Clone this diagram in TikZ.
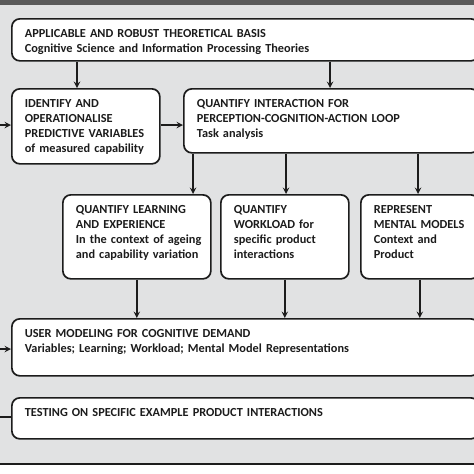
\documentclass[tikz,border=0pt]{standalone}
\usepackage{fontspec}
\setmainfont{Carlito}
\usetikzlibrary{arrows, positioning}
\definecolor{panel}{HTML}{E1E2E3}
\definecolor{topbar}{HTML}{5A5A5A}
\definecolor{ink}{HTML}{1C1C1C}
\tikzstyle{arrow} = [line width=1.8pt,->,>=stealth,draw=ink]

\begin{document}
\begin{tikzpicture}[x=1pt, y=-1pt, font=\fontsize{12.3}{15}\selectfont\bfseries]
\tikzstyle{stage} = [rectangle, rounded corners=8pt, draw=ink, line width=1.7pt, fill=white, anchor=north west, align=left, inner xsep=13pt, inner ysep=10pt, text height=9pt, text=ink]

\clip (0,0) rectangle (474,474);
\fill [white] (0,0) rectangle (474,474);
\fill [panel] (0,5) rectangle (474,464);
\fill [topbar] (0,0) rectangle (474,5);
\draw [ink, line width=2pt] (0,464) -- (474,464);

\node (basis) [stage, text width=441pt, text depth=13pt] at (11,18) {APPLICABLE AND ROBUST THEORETICAL BASIS\\Cognitive Science and Information Processing Theories};
\node (identify) [stage, text width=122pt, text depth=46pt] at (11,88) {IDENTIFY AND\\OPERATIONALISE\\\mbox{PREDICTIVE VARIABLES}\\of measured capability};
\node (interact) [stage, text width=269pt, text depth=35pt] at (183,88) {QUANTIFY INTERACTION FOR\\PERCEPTION-COGNITION-ACTION LOOP\\Task analysis};
\node (learning) [stage, text width=122pt, text depth=55pt] at (62,194) {QUANTIFY LEARNING\\AND EXPERIENCE\\\mbox{In the context of ageing}\\\mbox{and capability variation}};
\node (workload) [stage, text width=102pt, text depth=55pt] at (220,194) {QUANTIFY\\WORKLOAD for\\specific product\\interactions};
\node (mental) [stage, text width=92pt, text depth=55pt] at (360,194) {REPRESENT\\\mbox{MENTAL MODELS}\\Context and\\Product};
\node (usermodel) [stage, text width=441pt, text depth=28pt] at (11,318) {USER MODELING FOR COGNITIVE DEMAND\\Variables; Learning; Workload; Mental Model Representations};
\node (testing) [stage, text width=441pt, text depth=12pt] at (11,397) {TESTING ON SPECIFIC EXAMPLE PRODUCT INTERACTIONS};

\coordinate (b1) at ([xshift=66pt]basis.south west);
\coordinate (b2) at ([xshift=319pt]basis.south west);
\coordinate (q1) at ([xshift=10pt]interact.south west);
\coordinate (q2) at ([xshift=103pt]interact.south west);
\coordinate (q3) at ([xshift=235pt]interact.south west);
\coordinate (inA) at (0,125);
\coordinate (inB) at (0,349);
\coordinate (outC) at (0,417);

\draw [arrow] (b1) -- (b1 |- identify.north);
\draw [arrow] (b2) -- (b2 |- interact.north);
\draw [arrow] (inA) -- (identify.west |- inA);
\draw [arrow] (identify.east |- inA) -- (interact.west |- inA);
\draw [arrow] (q1) -- (q1 |- learning.north);
\draw [arrow] (q2) -- (q2 |- workload.north);
\draw [arrow] (q3) -- (q3 |- mental.north);
\draw [arrow] (learning.south) -- (learning.south |- usermodel.north);
\draw [arrow] (workload.south) -- (workload.south |- usermodel.north);
\draw [arrow] (mental.south) -- (mental.south |- usermodel.north);
\draw [arrow] (inB) -- (usermodel.west |- inB);
\draw [line width=1.8pt, draw=ink] (testing.west |- outC) -- (outC);

\end{tikzpicture}
\end{document}
